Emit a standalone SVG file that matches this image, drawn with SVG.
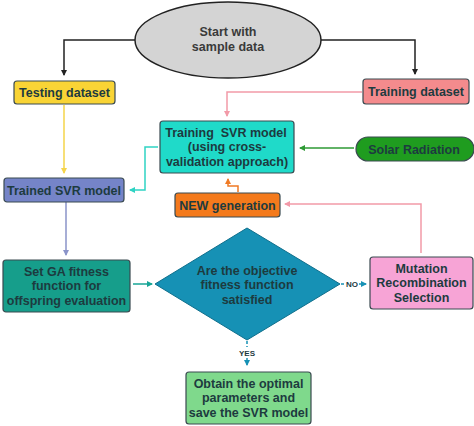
<svg xmlns="http://www.w3.org/2000/svg" width="474" height="426" viewBox="0 0 474 426">
<defs>
<marker id="ab" markerWidth="6" markerHeight="6" refX="5" refY="3" orient="auto" markerUnits="userSpaceOnUse"><path d="M0,0 L6,3 L0,6 z" fill="#222"/></marker>
<marker id="ay" markerWidth="6" markerHeight="6" refX="5" refY="3" orient="auto" markerUnits="userSpaceOnUse"><path d="M0,0 L6,3 L0,6 z" fill="#f5d44a"/></marker>
<marker id="ap" markerWidth="6" markerHeight="6" refX="5" refY="3" orient="auto" markerUnits="userSpaceOnUse"><path d="M0,0 L6,3 L0,6 z" fill="#f29aa8"/></marker>
<marker id="ag" markerWidth="6" markerHeight="6" refX="5" refY="3" orient="auto" markerUnits="userSpaceOnUse"><path d="M0,0 L6,3 L0,6 z" fill="#2e9a34"/></marker>
<marker id="ac" markerWidth="6" markerHeight="6" refX="5" refY="3" orient="auto" markerUnits="userSpaceOnUse"><path d="M0,0 L6,3 L0,6 z" fill="#2fd3c3"/></marker>
<marker id="av" markerWidth="6" markerHeight="6" refX="5" refY="3" orient="auto" markerUnits="userSpaceOnUse"><path d="M0,0 L6,3 L0,6 z" fill="#8a93c9"/></marker>
<marker id="ao" markerWidth="6" markerHeight="6" refX="5" refY="3" orient="auto" markerUnits="userSpaceOnUse"><path d="M0,0 L6,3 L0,6 z" fill="#f07a24"/></marker>
<marker id="at" markerWidth="6" markerHeight="6" refX="5" refY="3" orient="auto" markerUnits="userSpaceOnUse"><path d="M0,0 L6,3 L0,6 z" fill="#17a596"/></marker>
<marker id="ad" markerWidth="6" markerHeight="6" refX="5" refY="3" orient="auto" markerUnits="userSpaceOnUse"><path d="M0,0 L6,3 L0,6 z" fill="#1691b5"/></marker>
</defs>
<style>
text{font-family:"Liberation Sans",Arial,sans-serif;font-weight:bold;font-size:12.5px;fill:#1d3b3f;text-anchor:middle}
.box{stroke:#3a4a50;stroke-width:1.2}
.c{fill:none;stroke-width:1.5}
.s{font-size:8px}
.g{fill:#3a3a3a}
</style>
<rect width="474" height="426" fill="#fff"/>
<g id="connectors">
<path class="c" d="M135,40 H64 V75" stroke="#222" marker-end="url(#ab)"/>
<path class="c" d="M321,40 H415 V74" stroke="#222" marker-end="url(#ab)"/>
<path class="c" d="M64,105 V173" stroke="#f5d44a" marker-end="url(#ay)"/>
<path class="c" d="M362,92 H227 V116" stroke="#f29aa8" marker-end="url(#ap)"/>
<path class="c" d="M354,148 H300" stroke="#2e9a34" marker-end="url(#ag)"/>
<path class="c" d="M158,147 H145 V190 H130" stroke="#2fd3c3" marker-end="url(#ac)"/>
<path class="c" d="M66,202 V255" stroke="#8a93c9" marker-end="url(#av)"/>
<path class="c" d="M238,192 V186 H228 V179" stroke="#f07a24" marker-end="url(#ao)"/>
<path class="c" d="M421,253 V204 H285" stroke="#f29aa8" marker-end="url(#ap)"/>
<path class="c" d="M133,284 H152" stroke="#17a596" marker-end="url(#at)"/>
<path class="c" d="M341,284 H346" stroke="#1691b5" stroke-dasharray="3,2"/>
<path class="c" d="M359,284 H366" stroke="#1691b5" marker-end="url(#ad)"/>
<text class="s" x="352" y="287">NO</text>
<path class="c" d="M247,341 V347" stroke="#1691b5" stroke-dasharray="3,2"/>
<path class="c" d="M247,358 V365" stroke="#1691b5" marker-end="url(#ad)"/>
<text class="s" x="247" y="355.5">YES</text>
</g>
<g id="start">
<ellipse cx="228" cy="40" rx="93" ry="38" fill="#d4d4d4" stroke="#222" stroke-width="1.5"/>
<text class="g" x="228" y="35.5">Start with</text>
<text class="g" x="228" y="51">sample data</text>
</g>
<g id="testing">
<rect class="box" x="14" y="81" width="101" height="23" rx="3" fill="#f9d435"/>
<text x="64.5" y="97">Testing dataset</text>
</g>
<g id="training">
<rect class="box" x="363" y="79" width="106" height="25" rx="3" fill="#f48b8d"/>
<text x="416" y="96">Training dataset</text>
</g>
<g id="trainsvr">
<rect class="box" x="160" y="121" width="134" height="52" rx="3" fill="#1fdac9"/>
<text x="226" y="136.5" xml:space="preserve">Training  SVR model</text>
<text x="227" y="151">(using cross-</text>
<text x="227" y="165.5">validation approach)</text>
</g>
<g id="solar">
<rect class="box" x="356" y="137" width="118" height="24" rx="12" fill="#1f9c1f"/>
<text x="414" y="153.5">Solar Radiation</text>
</g>
<g id="trained">
<rect class="box" x="4" y="178" width="120" height="24" rx="3" fill="#7584c8"/>
<text x="64" y="194.5">Trained SVR model</text>
</g>
<g id="newgen">
<rect class="box" x="175" y="193" width="105" height="24" rx="3" fill="#f47a1c"/>
<text x="227.5" y="209.5">NEW generation</text>
</g>
<g id="setga">
<rect class="box" x="3" y="260" width="127" height="52" rx="3" fill="#169e8b"/>
<text x="66.5" y="275.5">Set GA fitness</text>
<text x="66.5" y="290">function for</text>
<text x="66.5" y="304.5">offspring evaluation</text>
</g>
<g id="decision">
<polygon points="247,228 340,284 247,340 155,284" fill="#1691b5" stroke="#0f6f8c" stroke-width="1"/>
<text x="247" y="274.5">Are the objective</text>
<text x="247" y="289">fitness function</text>
<text x="247" y="303.5">satisfied</text>
</g>
<g id="mutation">
<rect class="box" x="370" y="257" width="103" height="52" rx="3" fill="#f7a4d6"/>
<text x="421.5" y="272.5">Mutation</text>
<text x="421.5" y="287">Recombination</text>
<text x="421.5" y="301.5">Selection</text>
</g>
<g id="obtain">
<rect class="box" x="186" y="372" width="125" height="52" rx="3" fill="#7fd98c"/>
<text x="248.5" y="387.5">Obtain the optimal</text>
<text x="248.5" y="402">parameters and</text>
<text x="248.5" y="416.5">save the SVR model</text>
</g>
</svg>
